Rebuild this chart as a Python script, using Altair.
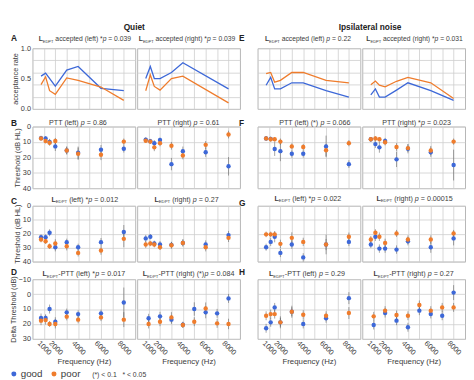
import altair as alt
import pandas as pd

FONT = "Liberation Sans"
TXT = "#3c3c3c"
BLUE = "#3d68d8"
ORANGE = "#ef7c2c"
BAR = "#4a4a4a"

W = 105
HA, HB, HC, HD = 62, 63, 57, 61

FREQ = [750, 1150, 1500, 2000, 3000, 4000, 6000, 8000]
FREQ_A2 = [750, 1150, 1500, 2000, 3000, 4000, 8000]
FREQ_K = [1000, 2000, 3000, 4000, 5000, 6000, 7000, 8000]
GRID_X = [1000, 2000, 3000, 4000, 5000, 6000, 7000, 8000]
GROUPS = ["good", "poor"]

# Row A: acceptance rate
A1_GOOD = [0.54, 0.59, None, 0.376, 0.64, 0.70, 0.34, 0.30]
A1_POOR = [0.40, 0.53, 0.30, 0.24, 0.51, 0.47, 0.36, 0.14]
A2_GOOD = [0.50, 0.70, 0.50, 0.50, 0.60, 0.76, 0.33]
A2_POOR = [0.30, 0.56, 0.37, 0.31, 0.50, 0.54, 0.10]
E1_GOOD = [0.39, 0.52, 0.33, 0.33, 0.43, 0.43, 0.30, 0.195]
E1_POOR = [0.58, 0.60, 0.44, 0.47, 0.60, 0.60, 0.47, 0.43]
E2_GOOD = [0.23, 0.33, 0.195, 0.195, 0.31, 0.43, 0.30, 0.14]
E2_POOR = [0.40, 0.46, 0.39, 0.365, 0.455, 0.52, 0.43, 0.17]

# Row B: PTT threshold (dB HL)
B1_GOOD = [7.5, 7.7, 10.0, 12.9, 15.5, 17.0, 15.0, 14.4]
B1_GOOD_ERR = [1.5, 1.5, 2, 3, 2.5, 4, 3, 2.5]
B1_POOR = [7.7, 9.4, 10.5, 9.4, 15.6, 17.7, 18.3, 9.8]
B1_POOR_ERR = [1.5, 1.5, 2, 2, 2.5, 4, 3.5, 2]
B2_GOOD = [8.5, 9.5, 10.8, 8.75, 24.4, 16.0, 16.7, 25.8]
B2_GOOD_ERR = [1.5, 1.5, 2, 1.5, 4, 3, 3, 6]
B2_POOR = [9.2, 9.8, 13.5, 10.8, 12.5, 18.8, 11.9, 5.2]
B2_POOR_ERR = [1.5, 1.5, 2.5, 2, 2.5, 2.5, 2.5, 2.5]
F1_GOOD = [7.7, 8.0, 14.6, 16.0, 17.7, 17.7, 12.9, 24.4]
F1_GOOD_ERR = [1.5, 1.5, 4.5, 6.5, 2.5, 2.5, 7, 2.5]
F1_POOR = [7.7, 8.3, 8.3, 9.8, 12.9, 13.3, 15.4, 10.8]
F1_POOR_ERR = [1.5, 1.5, 1.5, 2, 2, 2, 4, 2]
F2_GOOD = [8.3, 11.4, 13.5, 9.4, 21.3, 14.4, 16.7, 25.0]
F2_GOOD_ERR = [1.5, 2.5, 3.5, 2, 5, 3, 3, 10]
F2_POOR = [8.3, 7.7, 8.3, 10.2, 13.3, 14.0, 15.6, 9.8]
F2_POOR_ERR = [1.5, 1.5, 1.5, 2, 2.5, 2.5, 3, 2]

# Row C: L_EDPT threshold (dB HL)
C1_GOOD = [22.5, 22.5, 19.3, 29.7, 26.1, 29.7, 26.1, 18.8]
C1_GOOD_ERR = [2, 2, 2.5, 3, 2.5, 2.5, 3, 5]
C1_POOR = [24.2, 25.4, 29.0, 27.0, 29.0, 33.8, 32.1, 23.7]
C1_POOR_ERR = [2, 2, 2, 3, 3, 2.5, 3, 6]
C2_GOOD = [23.4, 22.2, 27.0, 27.8, 28.0, 26.6, 27.8, 21.0]
C2_GOOD_ERR = [2.5, 2, 2, 2.5, 2, 2.5, 3, 3]
C2_POOR = [27.8, 27.0, 27.8, 29.7, 28.3, 26.6, 29.7, 23.0]
C2_POOR_ERR = [2.5, 2, 2, 2, 2.5, 2.5, 3, 3]
G1_GOOD = [29.7, 25.9, 22.2, 33.8, 27.8, 37.0, 27.8, 25.9]
G1_GOOD_ERR = [2.5, 3, 4, 3, 3, 3, 7, 3]
G1_POOR = [20.5, 20.5, 20.5, 27.3, 23.0, 25.9, 27.8, 22.2]
G1_POOR_ERR = [2, 2, 2, 3, 4, 3, 4, 3]
G2_GOOD = [27.8, 22.2, 30.7, 30.7, 31.4, 25.4, 29.7, 23.4]
G2_GOOD_ERR = [2.5, 3, 3, 3, 3, 3, 4, 5]
G2_POOR = [24.2, 19.3, 22.2, 26.6, 19.8, 24.2, 24.2, 19.8]
G2_POOR_ERR = [2.5, 2.5, 3, 3, 2.5, 3, 3, 2.5]

# Row D: L_EDPT - PTT (dB)
D1_GOOD = [16.0, 16.0, 10.0, 18.5, 12.2, 13.4, 12.9, 5.6]
D1_GOOD_ERR = [3, 2.5, 3, 3, 2.5, 2.5, 2.5, 10]
D1_POOR = [17.8, 17.4, 20.0, 20.0, 15.1, 17.1, 15.6, 17.1]
D1_POOR_ERR = [3, 3, 2, 3, 2.5, 2.5, 2.5, 5]
D2_GOOD = [16.2, 14.9, 17.1, 20.5, 10.0, 12.2, 12.9, 2.9]
D2_GOOD_ERR = [3, 3, 3, 2, 4.5, 4, 3, 3]
D2_POOR = [20.0, 18.5, 15.6, 20.7, 18.5, 9.6, 19.6, 20.0]
D2_POOR_ERR = [3, 3, 3.5, 2, 3, 4, 3, 3.5]
H1_GOOD = [22.9, 18.9, 8.9, 18.9, 11.8, 20.0, 16.2, 2.7]
H1_GOOD_ERR = [3, 3, 3, 3, 3, 3, 3, 4]
H1_POOR = [14.5, 13.4, 13.4, 18.9, 11.8, 13.8, 14.5, 12.7]
H1_POOR_ERR = [3, 3, 3, 4, 4, 3, 3, 4]
H2_GOOD = [20.7, 12.7, 17.8, 22.2, 11.1, 13.3, 14.5, -1.0]
H2_GOOD_ERR = [3, 3, 3, 3, 3, 3, 3, 5]
H2_POOR = [14.9, 11.1, 14.0, 14.5, 7.3, 11.1, 8.9, 8.9]
H2_POOR_ERR = [3, 3, 3, 3, 3, 3, 3, 3]

TITLES = {
    "A1": (True, " accepted (left) *", " = 0.039"),
    "A2": (True, " accepted (right) *", " = 0.039"),
    "E1": (True, " accepted (left) ", " = 0.22"),
    "E2": (True, " accepted (right) *", " = 0.031"),
    "B1": (False, "PTT (left) ", " = 0.86"),
    "B2": (False, "PTT (right) ", " = 0.61"),
    "F1": (False, "PTT (left) (*) ", " = 0.066"),
    "F2": (False, "PTT (right) *", " = 0.023"),
    "C1": (True, " (left) *", " = 0.012"),
    "C2": (True, " (right) ", " = 0.27"),
    "G1": (True, " (left) *", " = 0.022"),
    "G2": (True, " (right) ", " = 0.00015"),
    "D1": (True, "-PTT (left) *", " = 0.017"),
    "D2": (True, "-PTT (right) (*)", " = 0.084"),
    "H1": (True, "-PTT (left) ", " = 0.29"),
    "H2": (True, "-PTT (right) ", " = 0.27"),
}

CW = {' ': 278, '*': 389, '(': 333, ')': 333, '-': 333, '.': 278, '=': 584, '<': 584,
      'A': 667, 'D': 722, 'E': 667, 'L': 556, 'P': 667, 'T': 611,
      'a': 556, 'c': 500, 'd': 556, 'e': 556, 'f': 278, 'g': 556, 'h': 556, 'i': 222,
      'l': 222, 'n': 556, 'o': 556, 'p': 556, 'r': 333, 's': 500, 't': 278, 'u': 556}


def tw(s, size, bold=False):
    return sum(CW.get(c, 556) for c in s) * size / 1000 * (1.08 if bold else 1.0)


COLOR_SCALE = alt.Scale(domain=GROUPS, range=[BLUE, ORANGE])
LEGEND = alt.Legend(orient="none", legendX=-24, legendY=HD + 31, direction="horizontal",
                    title=None, symbolType="circle", symbolSize=26, labelFontSize=10,
                    labelFont=FONT, labelColor=TXT, columnPadding=6, labelOffset=2,
                    padding=0, symbolStrokeWidth=0, symbolOpacity=1)


def text_layer(text, x, y, size, weight="normal", style="normal", align="left",
               baseline="alphabetic", color=TXT):
    return alt.Chart(pd.DataFrame({"t": [text]})).mark_text(
        align=align, baseline=baseline, fontSize=size, fontWeight=weight,
        fontStyle=style, font=FONT, color=color
    ).encode(x=alt.value(x), y=alt.value(y), text="t:N")


def title_layers(key, cx, y, fs=7.3):
    has_l, middle, pval = TITLES[key]
    pieces = []
    if has_l:
        pieces += [("L", fs, "bold", "normal", 0), ("EDPT", fs * 0.6, "normal", "normal", 1.6)]
    pieces += [(middle, fs, "normal", "normal", 0), ("p", fs, "normal", "italic", 0),
               (pval, fs, "normal", "normal", 0)]
    total = sum(tw(p[0], p[1], p[2] == "bold") for p in pieces)
    x = cx - total / 2
    out = []
    for text, size, wt, st, dy in pieces:
        lead = len(text) - len(text.lstrip(" "))
        out.append(text_layer(text.strip(), x + lead * 0.278 * size, y + dy, size, wt, st))
        x += tw(text, size, wt == "bold")
    return out


def x_enc(bottom):
    if bottom:
        ax = alt.Axis(values=GRID_X,
                      labelExpr="indexof([1000,2000,4000,6000,8000], datum.value) >= 0 ? datum.value + '' : ''",
                      labelAngle=45, labelAlign="center", labelBaseline="middle",
                      labelPadding=9, labelOverlap=False, labelFlush=False,
                      title="Frequency (Hz)", titlePadding=2, titleFontSize=8)
    else:
        ax = alt.Axis(values=GRID_X, labels=False, title=None)
    return alt.X("freq:Q", scale=alt.Scale(domain=[0, 9000], nice=False, zero=False), axis=ax)


def y_axis(kind, first):
    if kind == "A":
        vals = [0, 0.2, 0.4, 0.5, 0.6, 0.8, 1.0]
        title = "acceptance rate"
    elif kind == "D":
        vals = [-10, 0, 10, 20, 30]
        title = "Delta Threshold (dB)"
    else:
        vals = [0, 10, 20, 30, 40]
        title = "Threshold (dB HL)"
    kw = {}
    if kind == "A":
        kw["gridOpacity"] = {"condition": {"test": "datum.value == 0.5", "value": 0}, "value": 1}
        kw["labelExpr"] = "(datum.value == 0 || datum.value == 0.5 || datum.value == 1) ? format(datum.value, '.1f') : ''"
    if first:
        return alt.Axis(values=vals, title=title, labelOverlap=False, **kw)
    return alt.Axis(values=vals, labels=False, title=None, **kw)


def line_panel(key, freqs, good, poor, first, tcx, extra, fs=7.3):
    rows = []
    for g, vals in (("good", good), ("poor", poor)):
        for f, v in zip(freqs, vals):
            if v is not None:
                rows.append({"freq": f, "group": g, "v": v})
    df = pd.DataFrame(rows)
    lines = alt.Chart(df).mark_line(strokeWidth=1.3).encode(
        x=x_enc(False),
        y=alt.Y("v:Q", scale=alt.Scale(domain=[0, 1], nice=False, zero=False), axis=y_axis("A", first)),
        color=alt.Color("group:N", scale=COLOR_SCALE, legend=None),
    )
    layers = [lines] + title_layers(key, tcx, -7, fs) + extra
    return alt.layer(*layers).properties(width=W, height=HA)


def dot_panel(key, freqs, gm, ge, pm, pe, kind, first, bottom, height, tcx, ty, extra, legend=False):
    rows = []
    for g, ms, es in (("good", gm, ge), ("poor", pm, pe)):
        for f, m, e in zip(freqs, ms, es):
            rows.append({"freq": f, "group": g, "m": m, "lo": m - e, "hi": m + e})
    df = pd.DataFrame(rows)
    dom = [-10, 30] if kind == "D" else [0, 40]
    ysc = alt.Scale(domain=dom, reverse=True, nice=False, zero=False)
    x = x_enc(bottom)
    bars = alt.Chart(df).mark_rule(color=BAR, strokeWidth=1, opacity=0.5).encode(
        x=x, y=alt.Y("lo:Q", scale=ysc, axis=y_axis(kind, first)), y2="hi:Q")
    pts = alt.Chart(df).mark_circle(size=20, opacity=1).encode(
        x=x, y=alt.Y("m:Q", scale=ysc, axis=y_axis(kind, first)),
        color=alt.Color("group:N", scale=COLOR_SCALE, legend=LEGEND if legend else None))
    layers = [bars, pts] + title_layers(key, tcx, ty) + extra
    return alt.layer(*layers).properties(width=W, height=height)


def letter(ch, y, x=-22):
    return text_layer(ch, x, y, 8.5, weight="bold", color="#222")


def spacer(height):
    return alt.Chart(pd.DataFrame({"t": [""]})).mark_text().encode(
        text="t:N").properties(width=14, height=height, view=alt.ViewBackground(strokeOpacity=0))


HW = W / 2
A1 = line_panel("A1", FREQ, A1_GOOD, A1_POOR, True, HW + 1,
                [letter("A", -7), text_layer("Quiet", W - 1, -19, 8.5, weight="bold", align="center", color="#222")],
                fs=6.9)
A2 = line_panel("A2", FREQ_A2, A2_GOOD, A2_POOR, False, HW - 1.5, [], fs=6.9)
E1 = line_panel("E1", FREQ, E1_GOOD, E1_POOR, False, HW - 1,
                [letter("E", -7, -19), text_layer("Ipsilateral noise", W + 10, -19, 8.5, weight="bold", align="center", color="#222")],
                fs=6.9)
E2 = line_panel("E2", FREQ, E2_GOOD, E2_POOR, False, HW + 1, [], fs=6.9)

B1 = dot_panel("B1", FREQ, B1_GOOD, B1_GOOD_ERR, B1_POOR, B1_POOR_ERR, "B", True, False, HB, HW - 6, -2, [letter("B", -1)])
B2 = dot_panel("B2", FREQ, B2_GOOD, B2_GOOD_ERR, B2_POOR, B2_POOR_ERR, "B", False, False, HB, HW, -2, [])
F1 = dot_panel("F1", FREQ, F1_GOOD, F1_GOOD_ERR, F1_POOR, F1_POOR_ERR, "B", False, False, HB, HW + 6, -2, [letter("F", -1, -19)])
F2 = dot_panel("F2", FREQ, F2_GOOD, F2_GOOD_ERR, F2_POOR, F2_POOR_ERR, "B", False, False, HB, HW + 3, -2, [])

C1 = dot_panel("C1", FREQ, C1_GOOD, C1_GOOD_ERR, C1_POOR, C1_POOR_ERR, "C", True, False, HC, HW + 1, -4, [letter("C", -2)])
C2 = dot_panel("C2", FREQ, C2_GOOD, C2_GOOD_ERR, C2_POOR, C2_POOR_ERR, "C", False, False, HC, HW - 2, -4, [])
G1 = dot_panel("G1", FREQ, G1_GOOD, G1_GOOD_ERR, G1_POOR, G1_POOR_ERR, "C", False, False, HC, HW - 1, -5, [letter("G", 0, -19)])
G2 = dot_panel("G2", FREQ, G2_GOOD, G2_GOOD_ERR, G2_POOR, G2_POOR_ERR, "C", False, False, HC, HW + 1, -5, [])

FOOT = "(*) < 0.1\u00a0\u00a0\u00a0* < 0.05"
D1 = dot_panel("D1", FREQ, D1_GOOD, D1_GOOD_ERR, D1_POOR, D1_POOR_ERR, "D", True, True, HD, HW, -3,
               [letter("D", -4), text_layer(FOOT, 61, HD + 37, 7, baseline="middle")], legend=True)
D2 = dot_panel("D2", FREQ_K, D2_GOOD, D2_GOOD_ERR, D2_POOR, D2_POOR_ERR, "D", False, True, HD, HW, -3, [])
H1 = dot_panel("H1", FREQ, H1_GOOD, H1_GOOD_ERR, H1_POOR, H1_POOR_ERR, "D", False, True, HD, HW - 2, -3, [letter("H", -4, -19)])
H2 = dot_panel("H2", FREQ_K, H2_GOOD, H2_GOOD_ERR, H2_POOR, H2_POOR_ERR, "D", False, True, HD, HW, -3, [])

cells = [A1, A2, spacer(HA), E1, E2,
         B1, B2, spacer(HB), F1, F2,
         C1, C2, spacer(HC), G1, G2,
         D1, D2, spacer(HD), H1, H2]

chart = alt.concat(
    *cells, columns=5, spacing={"row": 18, "column": 2}, bounds="flush"
).resolve_scale(color="independent").resolve_legend(color="independent").properties(
    padding={"left": 0, "top": 10, "right": 0, "bottom": 0}
).configure(font=FONT).configure_axis(
    labelFont=FONT, labelFontSize=7.5, labelColor=TXT, titleFont=FONT, titleFontSize=7.4,
    titleFontWeight="normal", titleColor=TXT, gridColor="#cdcdcd", gridWidth=0.8,
    domain=False, ticks=False, tickSize=0, labelPadding=2, titlePadding=1,
).configure_view(stroke="#b5b5b5", strokeWidth=1)

chart.save("out.html", embed_options={"renderer": "svg", "actions": False})
